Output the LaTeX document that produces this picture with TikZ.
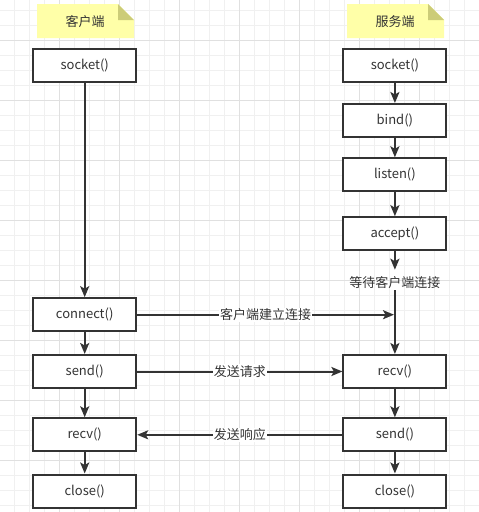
\documentclass[tikz,border=0pt]{standalone}
\usepackage{fontspec}
\setmainfont{Noto Sans CJK SC}
\usetikzlibrary{arrows.meta}
\definecolor{ink}{HTML}{333333}
\definecolor{gridminor}{HTML}{F0F0F0}
\definecolor{gridmajor}{HTML}{E0E0E0}
\definecolor{notefill}{HTML}{FFFFA8}
\definecolor{foldfill}{HTML}{CCCC78}
\tikzset{
  stepbox/.style={draw=ink, line width=2pt, fill=white, minimum width=103pt, minimum height=33pt, inner sep=0pt, text=ink, font=\fontsize{13pt}{15pt}\selectfont},
  plain/.style={text=ink, font=\fontsize{13pt}{15pt}\selectfont, inner sep=1pt},
  conn/.style={draw=ink, line width=2pt, -{Stealth[length=11pt,width=9pt,inset=2.5pt]}},
  elabel/.style={fill=white, text=ink, font=\fontsize{13pt}{15pt}\selectfont, inner sep=1pt}
}
\begin{document}
\begin{tikzpicture}[x=1pt,y=-1pt]
\useasboundingbox (0,0) rectangle (479,512);
\fill[white] (0,0) rectangle (479,512);
% grid
\foreach \k in {0,...,31} {
  \draw[gridminor, line width=1pt] (14.5+15*\k,0) -- (14.5+15*\k,512);
}
\foreach \k in {0,...,34} {
  \draw[gridminor, line width=1pt] (0,10.5+15*\k) -- (479,10.5+15*\k);
}
\foreach \k in {0,...,7} {
  \draw[gridmajor, line width=1pt] (59.5+60*\k,0) -- (59.5+60*\k,512);
}
\foreach \k in {0,...,8} {
  \draw[gridmajor, line width=1pt] (0,40.5+60*\k) -- (479,40.5+60*\k);
}
% notes
\fill[notefill] (37,4) -- (118,4) -- (134,20) -- (134,38) -- (37,38) -- cycle;
\fill[foldfill] (118,4) -- (134,20) -- (118,20) -- cycle;
\node[plain] (cnote) at (85,22) {客户端};
\fill[notefill] (347,4) -- (428,4) -- (444,20) -- (444,38) -- (347,38) -- cycle;
\fill[foldfill] (428,4) -- (444,20) -- (428,20) -- cycle;
\node[plain] (snote) at (395,22) {服务端};
% client column
\node[stepbox] (csocket) at (84.7,65.7) {socket()};
\node[stepbox] (cconnect) at (84.7,314.7) {connect()};
\node[stepbox] (csend) at (84.7,371.5) {send()};
\node[stepbox] (crecv) at (84.7,434.8) {recv()};
\node[stepbox] (cclose) at (84.7,491) {close()};
% server column
\node[stepbox] (ssocket) at (394.9,65.7) {socket()};
\node[stepbox] (sbind) at (394.9,120.5) {bind()};
\node[stepbox] (slisten) at (394.9,174.8) {listen()};
\node[stepbox] (saccept) at (394.9,233.7) {accept()};
\node[plain] (swait) at (394.9,283) {等待客户端连接};
\node[stepbox] (srecv) at (394.9,371.5) {recv()};
\node[stepbox] (ssend) at (394.9,434.8) {send()};
\node[stepbox] (sclose) at (394.9,491) {close()};
\coordinate (join) at (394,314.7);
% connectors
\draw[conn] (csocket) -- (cconnect);
\draw[conn] (cconnect) -- (csend);
\draw[conn] (csend) -- (crecv);
\draw[conn] (crecv) -- (cclose);
\draw[conn] (ssocket) -- (sbind);
\draw[conn] (sbind) -- (slisten);
\draw[conn] (slisten) -- (saccept);
\draw[conn, shorten >=6pt] (saccept) -- (swait);
\draw[conn] (swait) -- (srecv);
\draw[conn] (srecv) -- (ssend);
\draw[conn] (ssend) -- (sclose);
\draw[conn] (cconnect.east) -- (join) node[midway, elabel] (l1) {客户端建立连接};
\draw[conn] (csend) -- (srecv) node[midway, elabel] (l2) {发送请求};
\draw[conn] (ssend) -- (crecv) node[midway, elabel] (l3) {发送响应};
\end{tikzpicture}
\end{document}
